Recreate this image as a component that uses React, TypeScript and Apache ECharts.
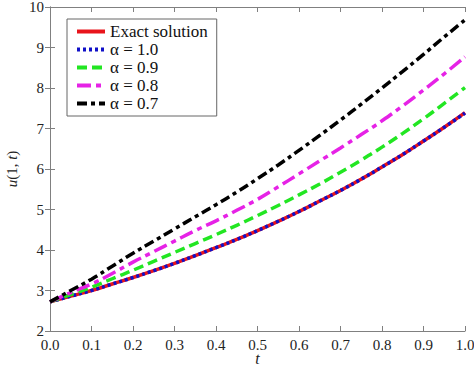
import React, { useEffect, useRef } from "react";
import * as echarts from "echarts";

const tValues = [0, 0.05, 0.1, 0.15, 0.2, 0.25, 0.3, 0.35, 0.4, 0.45, 0.5, 0.55, 0.6, 0.65, 0.7, 0.75, 0.8, 0.85, 0.9, 0.95, 1.0];
const exactValues = [2.72, 2.86, 3.0, 3.16, 3.32, 3.49, 3.67, 3.86, 4.06, 4.26, 4.48, 4.71, 4.95, 5.21, 5.47, 5.75, 6.05, 6.36, 6.69, 7.03, 7.39];
const alpha10Values = [2.72, 2.86, 3.0, 3.16, 3.32, 3.49, 3.67, 3.86, 4.06, 4.26, 4.48, 4.71, 4.95, 5.21, 5.47, 5.75, 6.05, 6.36, 6.69, 7.03, 7.38];
const alpha09Values = [2.72, 2.9, 3.08, 3.29, 3.5, 3.72, 3.94, 4.16, 4.38, 4.61, 4.85, 5.1, 5.36, 5.63, 5.92, 6.22, 6.54, 6.88, 7.24, 7.62, 8.01];
const alpha08Values = [2.72, 2.95, 3.16, 3.42, 3.7, 3.96, 4.22, 4.48, 4.72, 4.98, 5.25, 5.56, 5.88, 6.2, 6.52, 6.85, 7.19, 7.56, 7.95, 8.35, 8.77];
const alpha07Values = [2.72, 3.0, 3.28, 3.6, 3.92, 4.22, 4.52, 4.82, 5.12, 5.43, 5.76, 6.1, 6.46, 6.83, 7.21, 7.6, 8.0, 8.41, 8.83, 9.26, 9.68];
const seriesNames = ["Exact solution", "α = 1.0", "α = 0.9", "α = 0.8", "α = 0.7"];

const FONT = "Liberation Serif";

function pairs(vals: number[]) {
  return tValues.map((t, i) => [t, vals[i]]);
}

export default function App() {
  const ref = useRef<HTMLDivElement>(null);
  useEffect(() => {
    if (!ref.current) return;
    const chart = echarts.init(ref.current, undefined, { renderer: "svg" });
    const axisColor = "#808080";
    const labelStyle = { color: "#222", fontFamily: FONT, fontSize: 15, lineHeight: 11 };
    const mkLine = (name: string, vals: number[], color: string, type: any, width: number, z: number) => ({
      name,
      type: "line",
      data: pairs(vals),
      smooth: true,
      showSymbol: false,
      symbol: "none",
      z,
      lineStyle: { color, width, type, cap: "butt" },
      itemStyle: { color },
    });
    chart.setOption({
      animation: false,
      backgroundColor: "#fff",
      grid: { left: 50, right: 9, top: 7, bottom: 35, containLabel: false, outerBoundsMode: "none" },
      legend: {
        orient: "vertical",
        left: 67,
        top: 19,
        padding: [4, 9, 4, 8],
        borderColor: "#666",
        borderWidth: 1,
        borderRadius: 0,
        itemWidth: 28,
        itemHeight: 14,
        itemGap: 1,
        itemStyle: { opacity: 0 },
        lineStyle: { width: 4 },
        textStyle: { color: "#111", fontFamily: FONT, fontSize: 17, lineHeight: 15 },
        data: seriesNames,
      },
      xAxis: [
        {
          type: "value",
          min: 0,
          max: 1,
          interval: 0.1,
          name: "t",
          nameLocation: "middle",
          nameGap: 22,
          nameMoveOverlap: false,
          nameTextStyle: { color: "#222", fontFamily: FONT, fontSize: 16, lineHeight: 11, fontStyle: "italic" },
          axisLine: { show: true, lineStyle: { color: axisColor, width: 1 } },
          axisTick: { show: true, inside: true, length: 5, lineStyle: { color: axisColor } },
          axisLabel: { ...labelStyle, margin: 8, formatter: (v: number) => v.toFixed(1) },
          splitLine: { show: false },
        },
        {
          type: "value",
          position: "top",
          min: 0,
          max: 1,
          interval: 0.1,
          axisLine: { show: true, lineStyle: { color: axisColor, width: 1 } },
          axisTick: { show: true, inside: true, length: 5, lineStyle: { color: axisColor } },
          axisLabel: { show: false },
          splitLine: { show: false },
        },
      ],
      yAxis: [
        {
          type: "value",
          min: 2,
          max: 10,
          interval: 1,
          name: "{i|u}(1, {i|t})",
          nameLocation: "middle",
          nameRotate: 90,
          nameGap: 31,
          nameMoveOverlap: false,
          nameTextStyle: {
            color: "#222",
            fontFamily: FONT,
            fontSize: 15,
            rich: { i: { fontStyle: "italic", fontFamily: FONT, fontSize: 15, color: "#222" } },
          },
          axisLine: { show: true, lineStyle: { color: axisColor, width: 1 } },
          axisTick: { show: true, inside: true, length: 5, lineStyle: { color: axisColor } },
          axisLabel: { ...labelStyle, margin: 6 },
          splitLine: { show: false },
        },
        {
          type: "value",
          position: "right",
          min: 2,
          max: 10,
          interval: 1,
          axisLine: { show: true, lineStyle: { color: axisColor, width: 1 } },
          axisTick: { show: true, inside: true, length: 5, lineStyle: { color: axisColor } },
          axisLabel: { show: false },
          splitLine: { show: false },
        },
      ],
      series: [
        mkLine(seriesNames[0], exactValues, "#e8141b", "solid", 3.5, 2),
        mkLine(seriesNames[1], alpha10Values, "#1010c8", [3, 3], 3.5, 3),
        mkLine(seriesNames[2], alpha09Values, "#22e622", [10, 5], 3.5, 4),
        mkLine(seriesNames[3], alpha08Values, "#e622e6", [14, 5, 5, 5], 3.5, 5),
        mkLine(seriesNames[4], alpha07Values, "#000000", [10, 4, 4, 4], 3.5, 6),
      ],
    });
    return () => chart.dispose();
  }, []);
  return <div ref={ref} style={{ position: "fixed", left: 0, top: 0, width: 474, height: 366 }} />;
}
